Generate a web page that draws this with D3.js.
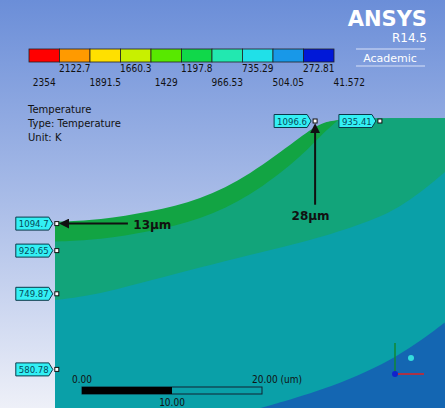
<!DOCTYPE html><html><head><meta charset="utf-8">
<script src="https://cdn.jsdelivr.net/npm/d3@7"></script>
<style>body{margin:0}svg{display:block}</style></head><body>
<svg id="c" width="445" height="408"></svg>
<script>
const legendColors=["#ff0000","#ff9a00","#ffe000","#c8f000","#58e800","#10d84a","#22e8b0","#20e0e8","#1898e8","#0018d8"];
const legendTop=["2122.7","1660.3","1197.8","735.29","272.81"];
const legendBottom=["2354","1891.5","1429","966.53","504.05","41.572"];
const topEdge=[[-3,19.8],[2,20],[7.56,20.9],[13.1,22.2],[18.7,25],[24.2,29.2],[26.4,30.7],[28.3,31.3],[40.3,31.3]];
const band1=[[-3,17.6],[2,17.8],[7.56,18.7],[13.1,20],[18.7,22.6],[24.2,26.9],[26.4,29.3],[28.7,31.3]];
const band2=[[-3,11.1],[2,11.7],[13.1,14.8],[24.2,17.4],[29.8,19.1],[35.3,21.1],[40.3,25.3]];
const band3=[[19.8,-0.9],[27.9,1.4],[35.3,4.8],[40.3,8.6]];
const regionColors=["#12a443","#12a47a","#0aa0a8","#1466b2"];
const probes=[{v:"1096.6",x:25.9,y:31},{v:"935.41",x:33.1,y:31},{v:"1094.7",x:-2.8,y:19.6},{v:"929.65",x:-2.8,y:16.6},{v:"749.87",x:-2.8,y:11.8},{v:"580.78",x:-2.8,y:3.4}];

const svg=d3.select("#c");
const x=d3.scaleLinear().domain([0,20]).range([82,262]);
const y=d3.scaleLinear().domain([0,40]).range([400,40]);
const defs=svg.append("defs");
const g=defs.append("linearGradient").attr("id","bg").attr("x1",0).attr("y1",0).attr("x2",0).attr("y2",1);
g.append("stop").attr("offset",0).attr("stop-color","#6b8ed8");
g.append("stop").attr("offset",0.5).attr("stop-color","#aabde8");
g.append("stop").attr("offset",1).attr("stop-color","#eef0f8");
svg.append("rect").attr("width",445).attr("height",408).attr("fill","url(#bg)");

const line=d3.line().x(d=>x(d[0])).y(d=>y(d[1])).curve(d3.curveBasis);
const xmax=41,ybot=-2;
function area(pts,fill){
  svg.append("path").attr("d",line(pts)+"L"+x(xmax)+","+y(pts[pts.length-1][1])+"L"+x(xmax)+","+y(ybot)+"L"+x(pts[0][0])+","+y(ybot)+"Z").attr("fill",fill);
}
area(topEdge,regionColors[0]);
area(band1,regionColors[1]);
area(band2,regionColors[2]);
svg.append("path").attr("d",line(band3)+"L"+x(xmax)+","+y(ybot)+"Z").attr("fill",regionColors[3]);

// legend
const lx=d3.scaleBand().domain(d3.range(10)).range([29,334]);
const bw=lx.bandwidth();
svg.selectAll(".lc").data(legendColors).join("rect").attr("x",(d,i)=>lx(i)).attr("y",49).attr("width",bw).attr("height",13).attr("fill",d=>d).attr("stroke","#222").attr("stroke-width",0.8);
const ft="'DejaVu Sans Condensed','Liberation Sans Narrow',sans-serif";
svg.selectAll(".lt").data(legendTop).join("text").attr("x",(d,i)=>29+bw*(2*i+1.5)).attr("y",72).text(d=>d).attr("font-family",ft).attr("font-size",10).attr("text-anchor","middle").attr("fill","#111");
svg.selectAll(".lb").data(legendBottom).join("text").attr("x",(d,i)=>29+bw*(2*i+0.5)).attr("y",86).text(d=>d).attr("font-family",ft).attr("font-size",10).attr("text-anchor","middle").attr("fill","#111");

// title
[["Temperature",113],["Type: Temperature",127],["Unit: K",141]].forEach(t=>svg.append("text").attr("x",28).attr("y",t[1]).text(t[0]).attr("font-family","'DejaVu Sans',sans-serif").attr("font-size",10).attr("fill","#111"));

// ANSYS logo
svg.append("text").attr("x",427).attr("y",26).attr("text-anchor","end").text("ANSYS").attr("font-family","'DejaVu Sans',sans-serif").attr("font-weight","bold").attr("font-size",21).attr("fill","#fff");
svg.append("text").attr("x",427).attr("y",42).attr("text-anchor","end").text("R14.5").attr("font-family","'DejaVu Sans',sans-serif").attr("font-size",12).attr("fill","#fff");
svg.append("line").attr("x1",356).attr("x2",425).attr("y1",49).attr("y2",49).attr("stroke","#d8e0f8");
svg.append("line").attr("x1",356).attr("x2",425).attr("y1",66).attr("y2",66).attr("stroke","#d8e0f8");
svg.append("text").attr("x",390).attr("y",62).attr("text-anchor","middle").text("Academic").attr("font-family","'DejaVu Sans',sans-serif").attr("font-size",11).attr("fill","#fff");

// probes
probes.forEach(p=>{
  const px=x(p.x), py=y(p.y);
  const w=37,h=13;
  const gg=svg.append("g").attr("transform",`translate(${px-41},${py-h/2})`);
  gg.append("path").attr("d",`M0,0H${w-4}L${w},${h/2}L${w-4},${h}H0Z`).attr("fill","#33f0f4").attr("stroke","#0a3a4a").attr("stroke-width",1);
  gg.append("text").attr("x",3).attr("y",10).text(p.v).attr("font-family",ft).attr("font-size",9.5).attr("fill","#064a5a");
  svg.append("rect").attr("x",px-2).attr("y",py-2).attr("width",4).attr("height",4).attr("fill","#fff").attr("stroke","#111");
});

// arrows
defs.append("marker").attr("id","ah").attr("viewBox","0 0 10 10").attr("refX",5).attr("refY",5).attr("markerWidth",5).attr("markerHeight",5).attr("orient","auto").append("path").attr("d","M0,0L10,5L0,10Z").attr("fill","#111");
svg.append("line").attr("x1",x(5.1)).attr("y1",y(19.6)).attr("x2",x(-2)).attr("y2",y(19.6)).attr("stroke","#111").attr("stroke-width",2).attr("marker-end","url(#ah)");
svg.append("text").attr("x",x(5.7)).attr("y",y(19.6)+5).text("13µm").attr("font-family","'DejaVu Sans',sans-serif").attr("font-weight","bold").attr("font-size",12).attr("fill","#111");
svg.append("line").attr("x1",x(25.9)).attr("y1",y(21.7)).attr("x2",x(25.9)).attr("y2",y(30.2)).attr("stroke","#111").attr("stroke-width",2).attr("marker-end","url(#ah)");
svg.append("text").attr("x",x(25.4)).attr("y",y(20)).attr("text-anchor","middle").text("28µm").attr("font-family","'DejaVu Sans',sans-serif").attr("font-weight","bold").attr("font-size",12).attr("fill","#111");

// scale bar
svg.append("rect").attr("x",x(0)).attr("y",387).attr("width",x(20)-x(0)).attr("height",7).attr("fill","#0aa0a8").attr("stroke","#123");
svg.append("rect").attr("x",x(0)).attr("y",387).attr("width",x(10)-x(0)).attr("height",7).attr("fill","#000");
svg.append("text").attr("x",x(0)).attr("y",383).attr("text-anchor","middle").text("0.00").attr("font-family",ft).attr("font-size",10).attr("fill","#111");
svg.append("text").attr("x",x(20)-10).attr("y",383).text("20.00 (um)").attr("font-family",ft).attr("font-size",10).attr("fill","#111");
svg.append("text").attr("x",x(10)).attr("y",406).attr("text-anchor","middle").text("10.00").attr("font-family",ft).attr("font-size",10).attr("fill","#111");

// triad
svg.append("line").attr("x1",395).attr("y1",374).attr("x2",395).attr("y2",343).attr("stroke","#118833").attr("stroke-width",1.5);
svg.append("line").attr("x1",395).attr("y1",374).attr("x2",424).attr("y2",374).attr("stroke","#dd2222").attr("stroke-width",1.5);
svg.append("circle").attr("cx",395).attr("cy",374).attr("r",3).attr("fill","#1122cc");
svg.append("circle").attr("cx",411).attr("cy",358).attr("r",3).attr("fill","#33dddd");
</script></body></html>
